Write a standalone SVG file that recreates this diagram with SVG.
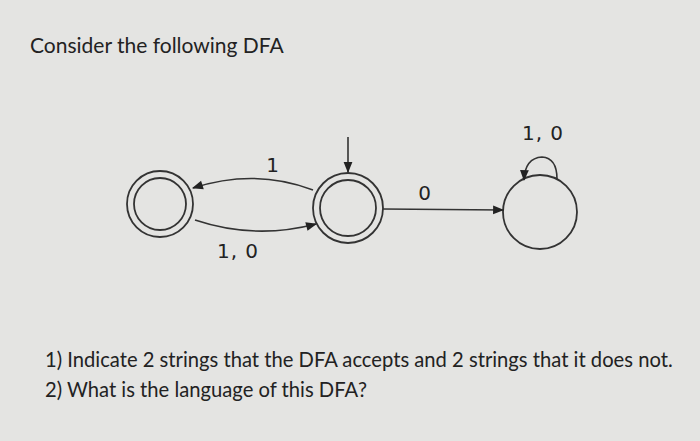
<svg xmlns="http://www.w3.org/2000/svg" width="700" height="441" viewBox="0 0 700 441">
<defs>
<marker id="ah" viewBox="0 0 10 10" refX="9" refY="5" markerWidth="13" markerHeight="11" markerUnits="userSpaceOnUse" orient="auto"><path d="M0,1 L10,5 L0,9 z" fill="#222"/></marker>
<style>
.st{fill:none;stroke:#333;stroke-width:1.8}
.ed{fill:none;stroke:#333;stroke-width:1.6;marker-end:url(#ah)}
.lb{font-family:"DejaVu Sans","Liberation Sans",sans-serif;font-size:20px;fill:#222;text-anchor:middle;letter-spacing:1px}
.tx{font-family:Lato,"Liberation Sans",sans-serif;fill:#222}
</style>
</defs>
<rect width="700" height="441" fill="#e4e4e2"/>
<text class="tx" x="30" y="53" font-size="21">Consider the following DFA</text>
<g id="q0"><circle class="st" cx="160" cy="204" r="33" fill="#ebebea"/><circle class="st" cx="160" cy="204" r="26"/></g>
<g id="q1"><circle class="st" cx="348" cy="208" r="35" fill="#ebebea"/><circle class="st" cx="348" cy="208" r="28"/></g>
<g id="q2"><circle class="st" cx="540" cy="212" r="37" fill="#ebebea"/></g>
<g id="edges">
<path class="ed" d="M348,137 L348,172"/>
<path class="ed" d="M313,190 Q255,168 193,188"/>
<path class="ed" d="M195,220 Q255,240 316,224"/>
<path class="ed" d="M383,209 L503,210"/>
<path class="ed" d="M557,179 Q557,158 542,157 Q525,158 524,180"/>
<text class="lb" x="273" y="172">1</text>
<text class="lb" x="238" y="258">1, 0</text>
<text class="lb" x="425" y="200">0</text>
<text class="lb" x="543" y="140">1, 0</text>
</g>
<text class="tx" x="45" y="367" font-size="20.2">1) Indicate 2 strings that the DFA accepts and 2 strings that it does not.</text>
<text class="tx" x="45" y="397" font-size="20.2">2) What is the language of this DFA?</text>
</svg>
